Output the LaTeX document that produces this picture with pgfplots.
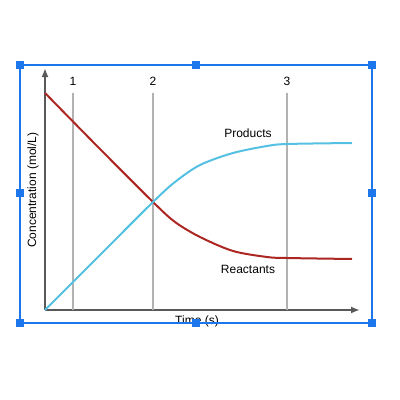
\documentclass[border=0pt]{standalone}
\usepackage{pgfplots}
\pgfplotsset{compat=1.18}
\usetikzlibrary{arrows.meta}
\usepackage{fontspec}
\setmainfont{Liberation Sans}
\definecolor{reac}{RGB}{172,38,34}
\definecolor{prod}{RGB}{84,192,226}
\definecolor{sel}{RGB}{28,118,236}
\begin{document}
\begin{tikzpicture}[handle/.style={fill=sel, minimum size=7.5pt, inner sep=0pt}]
\begin{axis}[
  x=1pt, y=1pt,
  xmin=0, xmax=315, ymin=0, ymax=242,
  axis lines=left,
  axis line style={draw=black!65, line width=1.8pt, -{Latex[length=9pt,width=7pt]}},
  xtick=\empty, ytick=\empty,
  clip=false,
  font=\fontsize{12}{14}\selectfont,
]
  % invisible page frame (400 x 400)
  \path (axis cs:-45,-90) rectangle (axis cs:355,310);
  % time markers
  \addplot[black!30, line width=1.4pt] coordinates {(28,0) (28,217)};
  \addplot[black!30, line width=1.4pt] coordinates {(108,0) (108,217)};
  \addplot[black!30, line width=1.4pt] coordinates {(242,0) (242,217)};
  \node at (axis cs:28,229) {1};
  \node at (axis cs:108,229) {2};
  \node at (axis cs:242,229) {3};
  % reactants
  \addplot[reac, line width=2pt, smooth, tension=0.5] coordinates {
    (0,217) (54,162) (108,108) (130,88) (155,73) (188,59) (222,53) (242,52) (307,51)
  };
  % products
  \addplot[prod, line width=2pt, smooth, tension=0.5] coordinates {
    (0,0) (54,54) (108,108) (130,128) (155,145) (188,157) (222,164) (242,166) (307,167)
  };
  \node at (axis cs:203,177) {Products};
  \node at (axis cs:203,41) {Reactants};
  \node[rotate=90] at (axis cs:-12,120) {Concentration (mol/L)};
  \node at (axis cs:152,-11) {Time (s)};
  % selection frame
  \draw[sel, line width=1.2pt] (axis cs:-25,-13) rectangle (axis cs:327,245);
  \node[handle] at (axis cs:-25,-13) {};
  \node[handle] at (axis cs:151,-13) {};
  \node[handle] at (axis cs:327,-13) {};
  \node[handle] at (axis cs:-25,117) {};
  \node[handle] at (axis cs:327,117) {};
  \node[handle] at (axis cs:-25,245) {};
  \node[handle] at (axis cs:151,245) {};
  \node[handle] at (axis cs:327,245) {};
\end{axis}
\end{tikzpicture}
\end{document}
